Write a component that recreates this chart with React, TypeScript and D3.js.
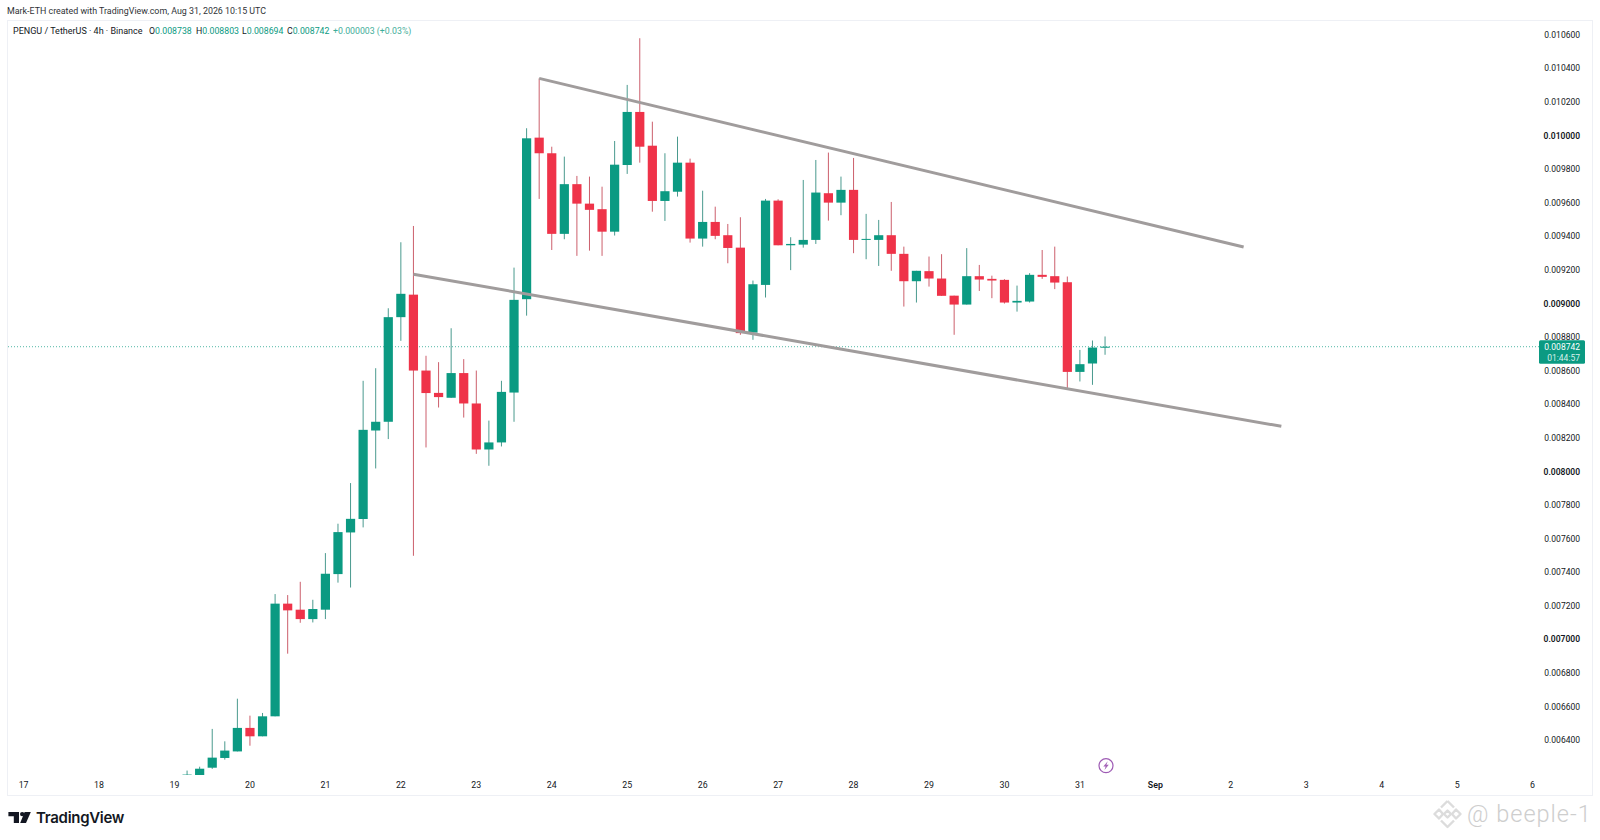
import React from "react";
import * as d3 from "d3";

// Bar dates are in days of the August calendar; the first bar is 19 Aug 04:00, bars are 4h apart.
const firstBarDay = 19 + 1 / 6;
const barStepDays = 1 / 6;

// Prices in millionths of a USDT
const opens = [6164,6152,6235,6293,6332,6472,6422,6541,7212,7176,7120,7176,7388,7636,7716,8243,8295,8918,9052,8600,8467,8438,8585,8404,8130,8172,8469,9025,9987,9894,9414,9710,9594,9561,9427,9824,10140,9939,9610,9665,9838,9386,9485,9406,9332,8826,9110,9612,9346,9350,9378,9656,9600,9676,9378,9378,9406,9295,9132,9192,9148,9046,8993,9162,9146,9140,9005,9011,9170,9162,9126,8592,8642,8738];
const highs = [6218,6241,6466,6392,6646,6545,6561,7269,7263,7342,7235,7513,7688,7930,8539,8614,8971,9364,9461,8688,8650,8852,8668,8600,8302,8539,9213,10043,10340,9933,9874,9759,9755,9695,9967,10301,10579,10082,9894,9993,9862,9671,9576,9473,9513,9136,9622,9620,9394,9735,9854,9898,9755,9866,9533,9497,9604,9338,9194,9279,9293,9046,9329,9229,9165,9144,9106,9180,9318,9338,9160,8723,8779,8803];
const lows = [6152,6134,6228,6283,6332,6366,6422,6541,6914,7098,7100,7120,7337,7308,7666,8017,8192,8777,7497,8142,8380,8438,8320,8104,8033,8148,8295,8927,9622,9318,9382,9283,9314,9283,9404,9771,9838,9546,9491,9636,9362,9338,9382,9239,8813,8783,9035,9346,9198,9332,9354,9493,9525,9299,9263,9223,9194,8981,9005,9100,9045,8813,8993,9074,9031,8999,8951,9005,9146,9085,8491,8535,8515,8694];
const closes = [6194,6229,6295,6337,6472,6422,6541,7212,7172,7120,7180,7390,7638,7717,8247,8295,8918,9057,8600,8466,8442,8585,8404,8130,8172,8473,9021,9983,9894,9414,9710,9594,9557,9427,9826,10140,9933,9610,9668,9838,9386,9485,9402,9330,8823,9114,9612,9346,9354,9378,9660,9600,9676,9378,9384,9406,9295,9132,9194,9148,9045,8993,9162,9142,9136,9005,9015,9170,9158,9124,8592,8638,8737,8742];

const priceTicks = [6400,6600,6800,7000,7200,7400,7600,7800,8000,8200,8400,8600,8800,9000,9200,9400,9600,9800,10000,10200,10400,10600];
const dayTicks = [17,18,19,20,21,22,23,24,25,26,27,28,29,30,31,32,33,34,35,36,37];
const dayLabels = ["17","18","19","20","21","22","23","24","25","26","27","28","29","30","31","Sep","2","3","4","5","6"];

const upperTrendDays = [firstBarDay + 28 / 6, 33.17];
const upperTrendPrices = [10340, 9336];
const lowerTrendDays = [firstBarDay + 18 / 6, 33.67];
const lowerTrendPrices = [9174, 8268];

const lastPrice = 8742;
const headerText = "Mark-ETH created with TradingView.com, Aug 31, 2026 10:15 UTC";
const legendTitle = "PENGU / TetherUS · 4h · Binance";
const legendLabels = ["O", "H", "L", "C"];
const legendValues = ["0.008738", "0.008803", "0.008694", "0.008742"];
const legendChange = "+0.000003 (+0.03%)";
const countdown = "01:44:57";
const watermark = "@ beeple-1";

const UP = "#0b9a82";
const DOWN = "#ef3349";
const UP_WICK = "#4a9a8e";
const DOWN_WICK = "#cc5f6c";
const FONT = "Roboto, 'Noto Sans', sans-serif";
const fmt = (v: number) => (v / 1e6).toFixed(6);

export default function App() {
  const x = d3.scaleLinear().domain([17, 37]).range([23.6, 1532.6]);
  const y = d3.scaleLinear().domain([6400, 10600]).range([740, 34.7]);
  const bw = 9.2;
  const paneBottom = 775;
  const trend = d3.line<[number, number]>().x((d) => x(d[0])).y((d) => y(d[1]));
  const upper = trend(upperTrendDays.map((d, i) => [d, upperTrendPrices[i]] as [number, number])) as string;
  const lower = trend(lowerTrendDays.map((d, i) => [d, lowerTrendPrices[i]] as [number, number])) as string;

  const legendXs = [149, 196, 242, 287];

  return (
    <svg width={1600} height={840} style={{ position: "absolute", left: 0, top: 0, display: "block" }} fontFamily={FONT}>
      <rect width={1600} height={840} fill="#ffffff" />
      <text x={7} y={14.2} fontSize={8.9} fill="#131722" opacity={0.9}>{headerText}</text>
      <rect x={7.5} y={20.5} width={1585} height={775} fill="#fff" stroke="#eef0f5" />

      <text x={13} y={33.8} fontSize={9} fill="#131722">{legendTitle}</text>
      {legendLabels.map((l, i) => (
        <text key={l} x={legendXs[i]} y={33.8} fontSize={8.75} fill="#131722">{l}<tspan fill={UP}>{legendValues[i]}</tspan></text>
      ))}
      <text x={333} y={33.8} fontSize={8.75} fill={UP} opacity={0.8}>{legendChange}</text>

      <line x1={8} x2={1539} y1={y(lastPrice)} y2={y(lastPrice)} stroke={UP} strokeWidth={1} strokeDasharray="1 2" opacity={0.7} />

      <defs>
        <clipPath id="pane"><rect x={8} y={21} width={1530} height={paneBottom - 21} /></clipPath>
      </defs>
      <g clipPath="url(#pane)">
        <g>
          {opens.map((o, i) => {
            const c = closes[i];
            const cx = x(firstBarDay + i * barStepDays);
            const up = c >= o;
            const top = y(Math.max(o, c));
            const bot = y(Math.min(o, c));
            return (
              <g key={i}>
                <line x1={cx} x2={cx} y1={y(highs[i])} y2={y(lows[i])} stroke={up ? UP_WICK : DOWN_WICK} strokeWidth={1} />
                <rect x={cx - bw / 2} y={top} width={bw} height={Math.max(bot - top, 1)} fill={up ? UP : DOWN} />
              </g>
            );
          })}
        </g>
        <path d={upper} fill="none" stroke="#a09c9c" strokeWidth={3} />
        <path d={lower} fill="none" stroke="#a09c9c" strokeWidth={3} />
      </g>

      {priceTicks.map((p) => (
        <text key={p} x={1580} y={y(p) + 3.2} textAnchor="end" fontSize={8.5}
          fill="#131722" fontWeight={p % 1000 === 0 ? 600 : 400}>{fmt(p)}</text>
      ))}

      <rect x={1539} y={y(lastPrice) - 6.5} width={46} height={23.5} rx={1.5} fill={UP} />
      <text x={1580} y={y(lastPrice) + 3.2} textAnchor="end" fontSize={8.5} fill="#fff">{fmt(lastPrice)}</text>
      <text x={1580} y={y(lastPrice) + 14.3} textAnchor="end" fontSize={8.5} fill="#d6f0ea">{countdown}</text>

      {dayTicks.map((d, i) => (
        <text key={d} x={x(d)} y={788.3} textAnchor="middle" fontSize={8.8}
          fill="#131722" fontWeight={dayLabels[i] === "Sep" ? 600 : 400}>{dayLabels[i]}</text>
      ))}

      <g transform="translate(1106,765.7)">
        <circle r={7} fill="#fff" stroke="#8e3fa8" strokeWidth={1.2} opacity={0.85} />
        <path d="M1.7 -4.4 L-2.7 0.8 L-0.4 0.8 L-1.5 4.4 L2.8 -1 L0.4 -1 Z" fill="#8e3fa8" opacity={0.8} />
      </g>

      <g fill="#131722">
        <path d="M8.4 812 H19 V823 H13.8 V816.2 H8.4 Z" />
        <circle cx={22.2} cy={814.1} r={2.2} />
        <path d="M24.6 812 H30.8 L26 823 H20.2 Z" />
        <text x={36} y={823} fontSize={15} fontWeight={600} fontFamily="Inter, Roboto, sans-serif" letterSpacing={-0.3}>TradingView</text>
      </g>

      <g opacity={0.9}>
        <g fill="none" stroke="#d9d9d9" strokeWidth={2.4} strokeLinejoin="round">
          <path d="M1447.5 801 L1454 807.5 M1447.5 801 L1441 807.5" />
          <path d="M1434.5 814 L1439 809.5 L1443 814 L1439 818.5 Z" />
          <path d="M1452 814 L1456 809.5 L1460.5 814 L1456 818.5 Z" />
          <path d="M1447.5 810.5 L1451 814 L1447.5 817.5 L1444 814 Z" />
          <path d="M1441 820.5 L1447.5 827 L1454 820.5" />
        </g>
        <text x={1467} y={822} fontSize={23.5} fontWeight={300} fill="#c9c9c9" letterSpacing={1}>{watermark}</text>
      </g>
    </svg>
  );
}
